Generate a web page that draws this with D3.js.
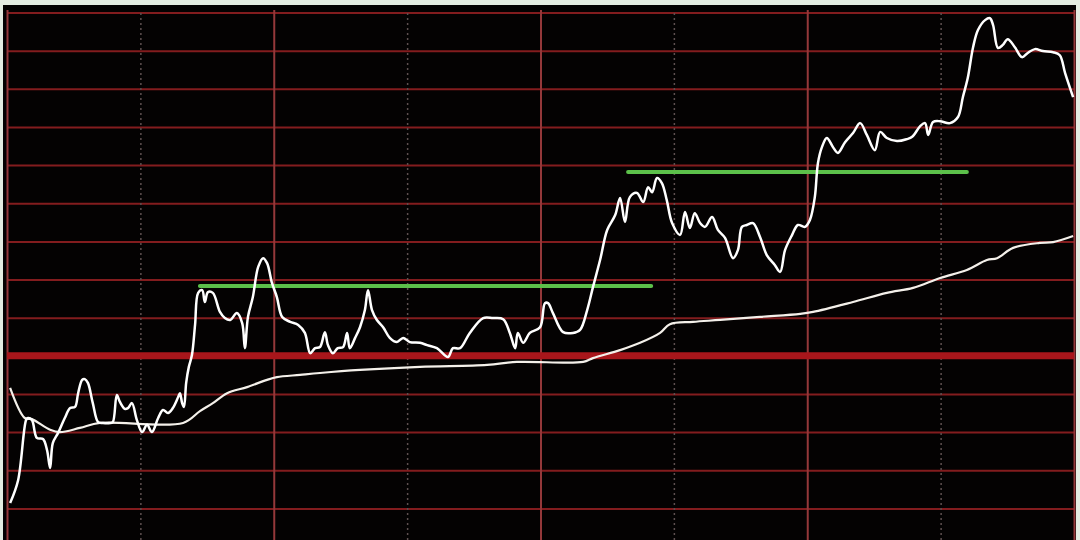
<!DOCTYPE html>
<html>
<head>
<meta charset="utf-8">
<script src="https://cdn.jsdelivr.net/npm/d3@7"></script>
<style>
  html, body { margin: 0; padding: 0; background: #e4ede2; }
  svg { display: block; }
</style>
</head>
<body>
<script>
// minutes since the open (0..240), values in % vs previous close
const priceTimes = [0.7,2.5,4.3,4.7,5.6,6.7,8.1,9.0,9.7,10.3,11.5,13.0,14.2,15.3,16.0,16.9,17.5,18.2,19.3,20.5,
  21.6,23.2,23.8,24.7,25.4,26.5,27.2,28.1,29.2,30.4,31.5,32.6,34.0,35.1,36.2,37.3,38.5,38.9,39.4,39.8,
  40.3,40.9,41.6,42.3,43.0,43.9,44.5,45.2,46.3,47.9,49.0,50.2,51.7,52.9,53.5,54.2,55.3,56.5,57.6,58.5,
  59.6,60.7,61.9,63.7,65.5,67.0,68.2,69.3,70.4,71.5,72.2,73.3,74.4,75.6,76.5,77.1,78.3,79.4,80.5,81.2,
  82.1,83.2,84.6,86.1,87.7,89.1,90.6,92.9,94.5,96.7,99.2,100.3,101.9,104.1,107.1,109.3,111.6,113.1,114.3,114.9,
  116.1,117.6,119.9,121.0,121.7,122.8,125.1,127.3,128.9,130.5,131.8,133.4,135.0,136.8,137.9,139.0,140.1,141.7,143.1,144.2,
  145.1,146.2,147.3,148.4,149.6,151.4,152.5,153.6,154.7,155.9,157.0,158.6,159.9,161.5,163.3,164.4,165.3,166.4,167.8,169.4,
  170.9,172.7,173.9,175.0,176.6,177.9,179.5,180.6,181.7,182.4,183.3,184.4,185.8,186.9,188.5,190.3,191.9,193.4,195.2,196.4,
  197.9,200.2,202.4,203.6,205.4,206.5,207.2,208.3,209.9,212.1,213.9,215.0,216.1,217.3,218.4,220.0,221.1,221.8,222.9,224.0,
  225.1,226.7,228.3,229.6,231.2,233.0,235.3,236.8,238.0,239.8];
const priceValues = [-3.86,-3.26,-1.68,-1.63,-1.68,-2.15,-2.18,-2.47,-2.94,-2.29,-2.02,-1.63,-1.37,-1.34,-0.98,-0.63,-0.61,-0.71,-1.24,-1.74,
  -1.76,-1.76,-1.74,-1.03,-1.21,-1.39,-1.37,-1.24,-1.68,-2.00,-1.81,-2.00,-1.63,-1.42,-1.50,-1.37,-1.08,-0.98,-1.24,-1.34,
  -0.71,-0.29,0.02,0.81,1.65,1.72,1.41,1.67,1.65,1.15,0.99,0.94,1.12,0.86,0.20,1.02,1.54,2.33,2.56,2.43,
  1.91,1.54,1.02,0.89,0.81,0.60,0.07,0.20,0.23,0.62,0.28,0.07,0.20,0.23,0.60,0.20,0.47,0.75,1.20,1.72,
  1.20,0.94,0.75,0.47,0.36,0.47,0.36,0.34,0.28,0.20,-0.03,0.20,0.20,0.60,0.99,0.99,0.96,0.60,0.20,0.60,
  0.34,0.60,0.75,1.38,1.38,1.12,0.62,0.60,0.68,1.20,1.80,2.51,3.30,3.69,4.14,3.51,4.16,4.27,4.03,4.42,
  4.29,4.66,4.53,4.08,3.48,3.17,3.77,3.35,3.74,3.48,3.38,3.64,3.30,3.09,2.56,2.77,3.38,3.43,3.48,3.11,
  2.64,2.38,2.20,2.77,3.17,3.43,3.38,3.56,4.16,5.05,5.47,5.71,5.47,5.32,5.60,5.84,6.10,5.79,5.39,5.87,
  5.71,5.63,5.68,5.74,6.02,6.10,5.79,6.13,6.15,6.10,6.26,6.78,7.28,8.09,8.54,8.80,8.85,8.67,8.07,8.15,
  8.30,8.09,7.83,7.94,8.04,7.99,7.96,7.88,7.41,6.78];

const avgTimes = [0.7,4.0,5.6,9.7,11.9,16.4,20.9,39.6,43.4,46.3,49.5,54.0,58.5,60.7,65.9,70.4,79.4,92.9,108.0,114.7,
  129.6,131.8,137.9,142.4,146.9,149.1,154.3,160.4,169.4,178.4,181.3,190.3,197.9,203.8,209.9,215.9,220.4,222.7,226.3,232.3,
  235.3,239.8];
const avgValues = [-0.84,-1.63,-1.66,-1.94,-2.00,-1.89,-1.76,-1.76,-1.45,-1.24,-0.98,-0.82,-0.63,-0.56,-0.50,-0.45,-0.37,-0.29,-0.24,-0.16,
  -0.16,-0.06,0.15,0.34,0.60,0.83,0.89,0.94,1.02,1.10,1.15,1.41,1.65,1.78,2.04,2.25,2.51,2.56,2.83,2.96,
  2.98,3.14];

// green resistance lines
const levelValues = [1.83, 4.82];
const levelStarts = [43.4, 139.7];
const levelEnds = [144.9, 215.9];

const gridLevels = [-4,-3,-2,-1,0,1,2,3,4,5,6,7,8,9];
const solidTimes = [0, 60, 120, 180, 240];
const dottedTimes = [30, 90, 150, 210];
const prevClose = 0;

var width = 1080, height = 540;

var x = d3.scaleLinear().domain([0, 240]).range([7, 1074]);
var y = d3.scaleLinear().domain([-4, 9]).range([508.4, 12.5]);

let svg = d3.select("body").append("svg").attr("width", width).attr("height", height);

svg.append("rect").attr("x", 3).attr("y", 5).attr("width", 1073).attr("height", 535).attr("fill", "#040202");

// horizontal grid
svg.append("g")
  .attr("transform", "translate(" + x(0) + ",0)")
  .call(d3.axisLeft(y).tickValues(gridLevels).tickSize(-(x(240) - x(0))).tickFormat(""))
  .call(g => g.select(".domain").remove())
  .call(g => g.selectAll(".tick line").attr("stroke", "#831c1e").attr("stroke-width", 2));

// vertical grid: solid and dotted
svg.append("g")
  .attr("transform", "translate(0," + height + ")")
  .call(d3.axisBottom(x).tickValues(solidTimes).tickSize(-(height - 10)).tickFormat(""))
  .call(g => g.select(".domain").remove())
  .call(g => g.selectAll(".tick line").attr("stroke", "#94383a").attr("stroke-width", 2));

svg.append("g")
  .attr("transform", "translate(0," + height + ")")
  .call(d3.axisBottom(x).tickValues(dottedTimes).tickSize(-(height - 10)).tickFormat(""))
  .call(g => g.select(".domain").remove())
  .call(g => g.selectAll(".tick line").attr("stroke", "#5e5050").attr("stroke-width", 1.5)
    .attr("stroke-dasharray", "2,3"));

// previous close line
svg.append("line")
  .attr("x1", x(0)).attr("x2", x(240))
  .attr("y1", y(prevClose)).attr("y2", y(prevClose))
  .attr("stroke", "#a8161b").attr("stroke-width", 7);

// green levels
svg.selectAll(".level")
  .data(levelValues)
  .enter().append("line")
  .attr("class", "level")
  .attr("x1", (d, i) => x(levelStarts[i]))
  .attr("x2", (d, i) => x(levelEnds[i]))
  .attr("y1", d => y(d)).attr("y2", d => y(d))
  .attr("stroke", "#5cc04a").attr("stroke-width", 4).attr("stroke-linecap", "round");

var line = d3.line()
  .x(d => x(d[0]))
  .y(d => y(d[1]))
  .curve(d3.curveCatmullRom.alpha(0.5));

svg.append("path")
  .datum(avgTimes.map((t, i) => [t, avgValues[i]]))
  .attr("d", line)
  .attr("fill", "none").attr("stroke", "#f4f0ea").attr("stroke-width", 2.2);

svg.append("path")
  .datum(priceTimes.map((t, i) => [t, priceValues[i]]))
  .attr("d", line)
  .attr("fill", "none").attr("stroke", "#ffffff").attr("stroke-width", 2.5)
  .attr("stroke-linejoin", "round");
</script>
</body>
</html>
